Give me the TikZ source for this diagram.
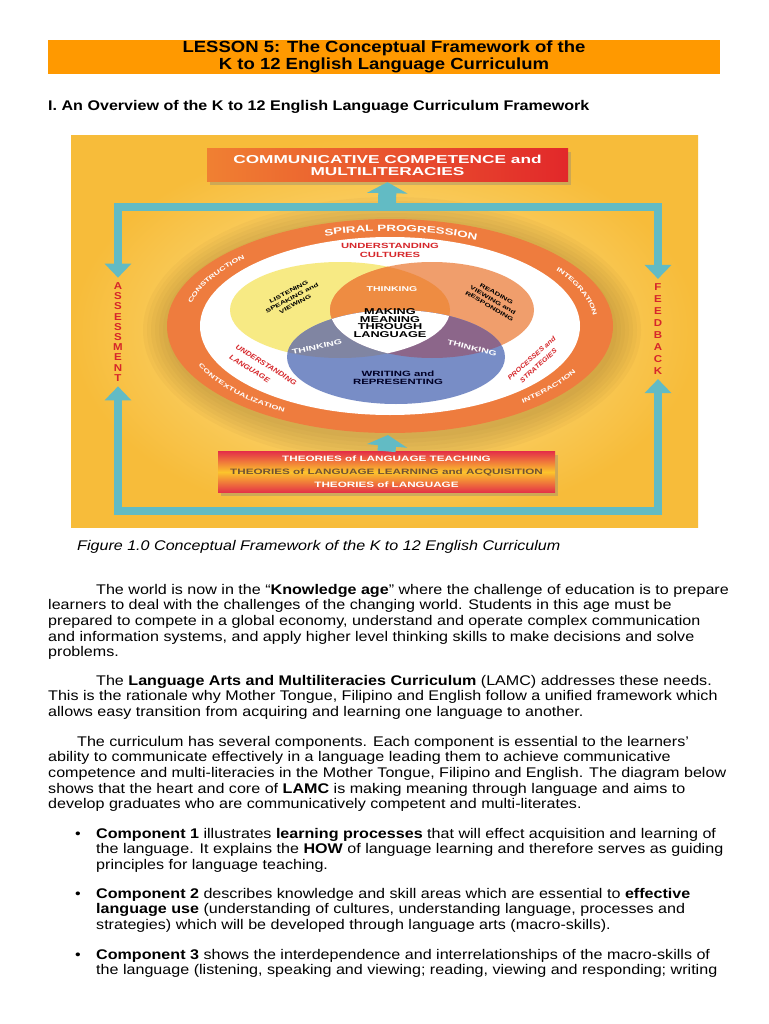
\documentclass[tikz,border=0pt]{standalone}
\usepackage{fontspec}
\setmainfont{Liberation Sans}[FakeStretch=1.15]
\newfontfamily\widefont[FakeStretch=1.5]{Liberation Sans}
\usetikzlibrary{calc,arrows.meta,shadows,decorations.text}
\definecolor{barorange}{RGB}{255,153,0}
\definecolor{figgold}{RGB}{247,188,58}
\definecolor{figpale}{RGB}{253,231,154}
\definecolor{ringorange}{RGB}{238,124,62}
\definecolor{frameteal}{RGB}{98,187,196}
\definecolor{labelred}{RGB}{214,38,42}
\definecolor{vyellow}{RGB}{247,234,132}
\definecolor{vsalmon}{RGB}{240,158,108}
\definecolor{vblue}{RGB}{120,141,198}
\definecolor{vorange}{RGB}{238,140,66}
\definecolor{vgrey}{RGB}{128,133,162}
\definecolor{vplum}{RGB}{140,102,138}
\definecolor{glowbrown}{RGB}{150,110,40}
\definecolor{boxred}{RGB}{228,48,72}
\definecolor{boxyellow}{RGB}{252,196,44}
\definecolor{theorybrown}{RGB}{112,82,52}
\definecolor{compred}{RGB}{226,40,42}
\definecolor{comporange}{RGB}{240,128,50}
\newcommand\ringfont{\widefont\bfseries\fontsize{6}{6}\selectfont}
\newcommand\yelE{(340,-310) ellipse [x radius=110, y radius=48]}
\newcommand\salE{(432,-310) ellipse [x radius=102, y radius=48]}
\newcommand\bluE{(396,-357) ellipse [x radius=109, y radius=47]}

\begin{document}
\begin{tikzpicture}[x=1pt,y=1pt,
  body/.style={anchor=base west, inner sep=0pt, align=left, font=\fontsize{14}{15.7}\selectfont},
  figtxt/.style 2 args={inner sep=0pt, align=center, font=\widefont\bfseries\fontsize{#1}{#2}\selectfont},
  redtxt/.style 2 args={inner sep=0pt, text=labelred, font=\bfseries\itshape\fontsize{#1}{#2}\selectfont},
  tealline/.style={draw=frameteal, line width=8pt},
  sidetip/.style={-{Triangle[width=26pt,length=14pt]}},
  fatarrow/.style={draw=frameteal, line width=18pt, -{Triangle[width=40pt,length=11pt]}},
  ringtxt/.style={decorate, decoration={text along path, text align=center, text color=white, raise=-2.2pt}},
  boxshadow/.style={drop shadow={shadow xshift=3pt, shadow yshift=-3pt, opacity=0.35}}]
\fill[white] (0,0) rectangle (768,-1024);
\useasboundingbox (0,0) rectangle (768,-1024);
\node[fill=barorange, minimum width=672pt, minimum height=34pt, inner sep=0pt, align=center, font=\bfseries\fontsize{16.1}{17}\selectfont] (title) at (384,-57) {LESSON 5: The Conceptual Framework of the\\K to 12 English Language Curriculum};
\node[body, font=\bfseries\fontsize{14}{15.7}\selectfont] (overview) at (48,-111) {I. An Overview of the K to 12 English Language Curriculum Framework};

\shade[inner color=figpale, outer color=figgold] (71,-136) rectangle (698,-527);
\foreach \d in {26,22,...,2} \fill[glowbrown, opacity=0.06] (392,-330) ellipse [x radius=223+\d, y radius=107+\d];
\fill[ringorange] (390,-326) ellipse [x radius=223, y radius=107];
\fill[white] (390,-326) ellipse [x radius=190, y radius=89];
\fill[vyellow] \yelE; \fill[vsalmon] \salE; \fill[vblue] \bluE;
\begin{scope} \clip \yelE; \fill[vorange] \salE; \fill[vgrey] \bluE; \end{scope}
\begin{scope} \clip \salE; \fill[vplum] \bluE; \end{scope}
\begin{scope} \clip \yelE; \clip \salE; \fill[white] \bluE; \end{scope}

\path[ringtxt, decoration={raise=-3.2pt, text={|\widefont\bfseries\fontsize{9}{9}\selectfont|SPIRAL PROGRESSION}}, shift={(390,-326)}] (121:206.5 and 98) arc[start angle=121, end angle=52, x radius=206.5, y radius=98];
\path[ringtxt, decoration={text={|\ringfont|CONSTRUCTION}}, shift={(390,-326)}] (185:206.5 and 98) arc[start angle=185, end angle=124, x radius=206.5, y radius=98];
\path[ringtxt, decoration={text={|\ringfont|CONTEXTUALIZATION}}, shift={(390,-326)}] (188:206.5 and 98) arc[start angle=188, end angle=248, x radius=206.5, y radius=98];
\path[ringtxt, decoration={text={|\ringfont|INTEGRATION}}, shift={(390,-326)}] (45:206.5 and 98) arc[start angle=45, end angle=-8, x radius=206.5, y radius=98];
\path[ringtxt, decoration={text={|\ringfont|INTERACTION}}, shift={(390,-326)}] (298:206.5 and 98) arc[start angle=298, end angle=352, x radius=206.5, y radius=98];

\node[figtxt={7.5}{9}, text=labelred] (cultures) at (390,-250) {UNDERSTANDING\\CULTURES};
\node[redtxt={7}{12}, align=left, rotate=-32] (language) at (263,-370) {UNDERSTANDING\\LANGUAGE};
\node[redtxt={6.5}{10}, align=center, rotate=42] (strategies) at (535,-362) {PROCESSES and\\STRATEGIES};
\node[figtxt={5.4}{7}, rotate=28] (listening) at (292,-298) {LISTENING\\SPEAKING and\\VIEWING};
\node[figtxt={5.4}{7}, rotate=-30] (reading) at (493,-300) {READING\\VIEWING and\\RESPONDING};
\node[figtxt={7}{7}, text=white] (thinktop) at (392,-289) {THINKING};
\node[figtxt={7}{7}, text=white, rotate=12] (thinkleft) at (317,-347) {THINKING};
\node[figtxt={7}{7}, text=white, rotate=-14] (thinkright) at (472,-348) {THINKING};
\node[figtxt={8.5}{7.4}] (meaning) at (390,-323) {MAKING\\MEANING\\THROUGH\\LANGUAGE};
\node[figtxt={7.6}{8.5}, text=black!85!blue] (writing) at (398,-378) {WRITING and\\REPRESENTING};

\coordinate (ftop) at (387,-207); \coordinate (fbot) at (387,-511); \coordinate (ringbot) at (388,-435);
\node[inner sep=0pt, align=center, text=labelred, font=\bfseries\fontsize{10}{10.2}\selectfont, outer sep=5pt] (assess) at (118,-332) {A\\S\\S\\E\\S\\S\\M\\E\\N\\T};
\node[inner sep=0pt, align=center, text=labelred, font=\bfseries\fontsize{10}{11.9}\selectfont, outer sep=5pt] (feedback) at (658,-329) {F\\E\\E\\D\\B\\A\\C\\K};
\draw[tealline, sidetip] (ftop) -| (assess.north); \draw[tealline, sidetip] (ftop) -| (feedback.north);
\draw[tealline, sidetip] (fbot) -| (assess.south); \draw[tealline, sidetip] (fbot) -| (feedback.south);
\node[boxshadow, left color=comporange, right color=compred, minimum width=361pt, minimum height=33pt, figtxt={11.5}{12}, text=white] (comp) at (387.5,-165.5) {COMMUNICATIVE COMPETENCE and\\MULTILITERACIES};
\node[boxshadow, top color=boxred, bottom color=boxred, middle color=boxyellow, minimum width=337pt, minimum height=41pt, figtxt={7.8}{13}] (theories) at (386.5,-472) {\textcolor{white}{THEORIES of LANGUAGE TEACHING}\\\textcolor{theorybrown}{THEORIES of LANGUAGE LEARNING and ACQUISITION}\\\textcolor{white}{THEORIES of LANGUAGE}};
\draw[fatarrow] (ftop) -- (comp.south);
\draw[fatarrow] (theories.north) -- (ringbot);

\node[body, font=\itshape\fontsize{14}{15.7}\selectfont] (caption) at (77,-550) {Figure 1.0 Conceptual Framework of the K to 12 English Curriculum};
\node[body] (para1) at (48,-656.8) {\hspace*{48pt}The world is now in the “\textbf{Knowledge age}” where the challenge of education is to prepare\\learners to deal with the challenges of the changing world. Students in this age must be\\prepared to compete in a global economy, understand and operate complex communication\\and information systems, and apply higher level thinking skills to make decisions and solve\\problems.};
\node[body] (para2) at (48,-716.4) {\hspace*{48pt}The \textbf{Language Arts and Multiliteracies Curriculum} (LAMC) addresses these needs.\\This is the rationale why Mother Tongue, Filipino and English follow a unified framework which\\allows easy transition from acquiring and learning one language to another.};
\node[body] (para3) at (48,-808.8) {\hspace*{29pt}The curriculum has several components. Each component is essential to the learners’\\ability to communicate effectively in a language leading them to achieve communicative\\competence and multi-literacies in the Mother Tongue, Filipino and English. The diagram below\\shows that the heart and core of \textbf{LAMC} is making meaning through language and aims to\\develop graduates who are communicatively competent and multi-literates.};
\node[body] (dot1) at (75,-838) {•};
\node[body] (comp1) at (96,-869.4) {\textbf{Component 1} illustrates \textbf{learning processes} that will effect acquisition and learning of\\the language. It explains the \textbf{HOW} of language learning and therefore serves as guiding\\principles for language teaching.};
\node[body] (dot2) at (75,-898) {•};
\node[body] (comp2) at (96,-929.4) {\textbf{Component 2} describes knowledge and skill areas which are essential to \textbf{effective}\\\textbf{language use} (understanding of cultures, understanding language, processes and\\strategies) which will be developed through language arts (macro-skills).};
\node[body] (dot3) at (75,-959) {•};
\node[body] (comp3) at (96,-974.7) {\textbf{Component 3} shows the interdependence and interrelationships of the macro-skills of\\the language (listening, speaking and viewing; reading, viewing and responding; writing};
\end{tikzpicture}
\end{document}
